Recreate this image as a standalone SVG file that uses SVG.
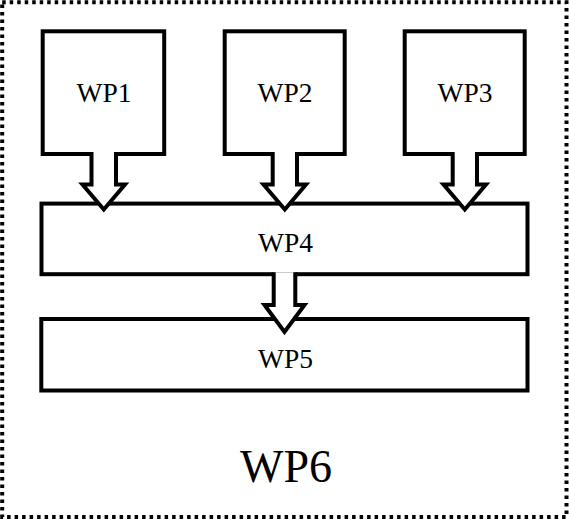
<svg xmlns="http://www.w3.org/2000/svg" width="569" height="520" viewBox="0 0 569 520">
<style>
.box{fill:#fff;stroke:#000;stroke-width:4}
.arr{fill:#fff;stroke:#000;stroke-width:4;stroke-miterlimit:10}
.lbl{font-family:"Liberation Serif","Times New Roman",serif;font-size:27.5px;fill:#000;text-anchor:middle}
.big{font-family:"Liberation Serif","Times New Roman",serif;font-size:46px;fill:#000;text-anchor:middle}
</style>
<rect width="569" height="520" fill="#fff"/>
<g id="WP6">
<rect x="2.2" y="2.2" width="564.3" height="514.8" fill="none" stroke="#000" stroke-width="4" stroke-dasharray="3.5 4"/>
<text class="big" x="286" y="482">WP6</text>
</g>
<g id="WP1"><rect class="box" x="42.7" y="31.3" width="121.5" height="122.7"/><text class="lbl" x="104" y="101.5">WP1</text></g>
<g id="WP2"><rect class="box" x="224.7" y="31.3" width="120" height="122.7"/><text class="lbl" x="285" y="101.5">WP2</text></g>
<g id="WP3"><rect class="box" x="404.7" y="31.3" width="120" height="122.7"/><text class="lbl" x="465" y="101.5">WP3</text></g>
<g id="WP4"><rect class="box" x="41.5" y="203.6" width="486" height="70.6"/><text class="lbl" x="285.5" y="251.5">WP4</text></g>
<g id="WP5"><rect class="box" x="41.3" y="319" width="486.2" height="71.5"/><text class="lbl" x="285.5" y="367.5">WP5</text></g>
<g id="connectors">
<path class="arr" d="M91.5 152 V184.5 H82.5 L103.8 209.5 L125 184.5 H116 V152"/>
<path class="arr" d="M272.7 152 V184.5 H263.5 L284.8 209.5 L306 184.5 H297 V152"/>
<path class="arr" d="M452.7 152 V184.5 H443.5 L464.8 209.5 L486 184.5 H477 V152"/>
<path class="arr" d="M273.7 272.2 V305 H264.5 L284.5 332 L304.5 305 H295.3 V272.2"/>
</g>
</svg>
